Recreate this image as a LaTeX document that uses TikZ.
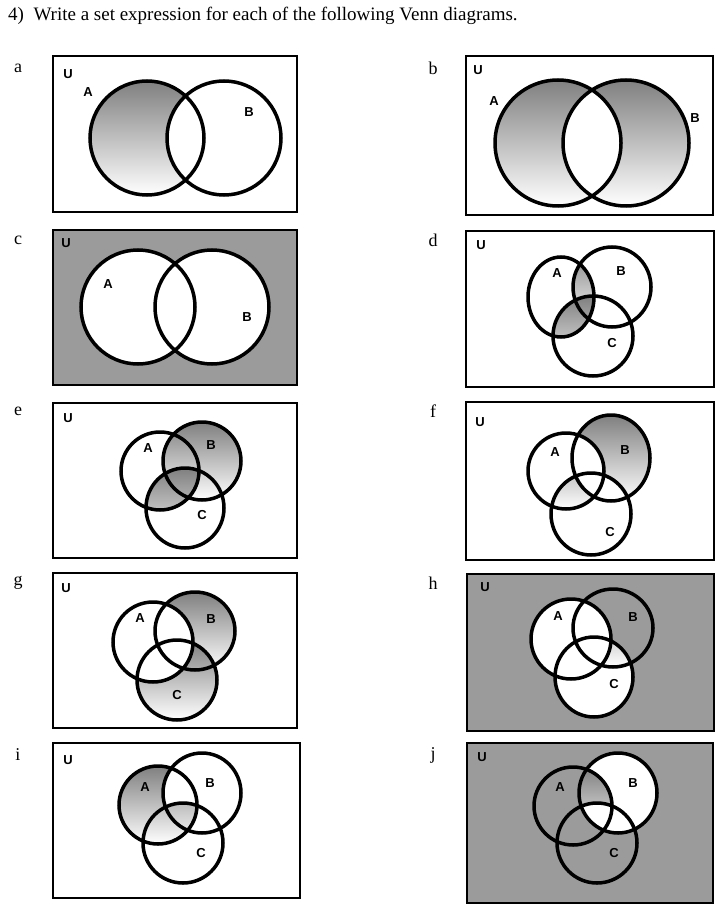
\documentclass[tikz,border=0pt]{standalone}
\usepackage{fontspec}
\setmainfont{Liberation Serif}
\newfontfamily\lblfont{Liberation Sans}
\definecolor{shade}{RGB}{155,155,155}
\begin{document}
\begin{tikzpicture}[x=1pt,y=-1pt,
  box/.style={draw=black,line width=2pt},
  ring/.style={draw=black,line width=3.5pt},
  setlbl/.style={font=\lblfont\bfseries\fontsize{13}{13}\selectfont,inner sep=0pt},
  itemlbl/.style={font=\fontsize{18}{18}\selectfont,inner sep=0pt}]
\useasboundingbox (0,0) rectangle (723,909);
\node[anchor=west,font=\fontsize{19}{19}\selectfont,inner sep=0pt] (title) at (8,16) {4)\ \ Write a set expression for each of the following Venn diagrams.};
% item letters
\foreach \n/\x/\y in {a/18/68,b/433/68,c/18/240,d/433/240,e/18/411,f/433/411,g/18/583,h/433/583,i/18/755,j/433/755}
  \node[itemlbl] (l\n) at (\x,\y) {\n};

% ---------- a
\def\A{(147,138) ellipse [x radius=57pt,y radius=57pt]}
\def\B{(224,138) ellipse [x radius=57pt,y radius=57pt]}
\draw[box] (53,56) rectangle (297,212);
\fill[shade] \A; \fill[white] \B;
\draw[ring] \A; \draw[ring] \B;
\node[setlbl] (aU) at (68,74) {U};
\node[setlbl] (aA) at (88,92) {A};
\node[setlbl] (aB) at (249,112) {B};

% ---------- b
\def\A{(558,143) ellipse [x radius=63pt,y radius=63pt]}
\def\B{(626,143) ellipse [x radius=63pt,y radius=63pt]}
\draw[box] (466,56) rectangle (713,215);
\fill[shade] \A; \fill[shade] \B;
\begin{scope}\clip \A; \fill[white] \B;\end{scope}
\draw[ring] \A; \draw[ring] \B;
\node[setlbl] (bU) at (478,70) {U};
\node[setlbl] (bA) at (494,101) {A};
\node[setlbl] (bB) at (695,118) {B};

% ---------- c
\def\A{(138,307) ellipse [x radius=57pt,y radius=57pt]}
\def\B{(212,307) ellipse [x radius=57pt,y radius=57pt]}
\draw[box,fill=shade] (53,230) rectangle (297,385);
\fill[white] \A; \fill[white] \B;
\draw[ring] \A; \draw[ring] \B;
\node[setlbl] (cU) at (66,243) {U};
\node[setlbl] (cA) at (108,284) {A};
\node[setlbl] (cB) at (247,317) {B};

% ---------- d
\def\A{(561,297) ellipse [x radius=33pt,y radius=40pt]}
\def\B{(612,287) ellipse [x radius=39pt,y radius=40pt]}
\def\C{(593,336) ellipse [x radius=40pt,y radius=40pt]}
\draw[box] (466,231) rectangle (714,387);
\begin{scope}\clip \A; \fill[shade] \B; \fill[shade] \C;\end{scope}
\draw[ring] \A; \draw[ring] \B; \draw[ring] \C;
\node[setlbl] (dU) at (481,245) {U};
\node[setlbl] (dA) at (557,273) {A};
\node[setlbl] (dB) at (621,271) {B};
\node[setlbl] (dC) at (612,343) {C};

% ---------- e
\def\A{(160,471) ellipse [x radius=39pt,y radius=39pt]}
\def\B{(202,461) ellipse [x radius=39pt,y radius=39pt]}
\def\C{(185,508) ellipse [x radius=39pt,y radius=40pt]}
\draw[box] (53,403) rectangle (297,558);
\fill[shade] \B;
\begin{scope}\clip \A; \fill[shade] \C;\end{scope}
\draw[ring] \A; \draw[ring] \B; \draw[ring] \C;
\node[setlbl] (eU) at (68,418) {U};
\node[setlbl] (eA) at (148,448) {A};
\node[setlbl] (eB) at (211,445) {B};
\node[setlbl] (eC) at (202,515) {C};

% ---------- f
\def\A{(566,471) ellipse [x radius=38pt,y radius=38pt]}
\def\B{(611,458) ellipse [x radius=39pt,y radius=43pt]}
\def\C{(591,514) ellipse [x radius=40pt,y radius=41pt]}
\draw[box] (466,402) rectangle (714,560);
\fill[shade] \B; \fill[white] \A; \fill[white] \C;
\begin{scope}\clip \A; \clip \C; \fill[shade] \A; \clip \B; \fill[white] \B;\end{scope}
\draw[ring] \A; \draw[ring] \B; \draw[ring] \C;
\node[setlbl] (fU) at (480,422) {U};
\node[setlbl] (fA) at (555,452) {A};
\node[setlbl] (fB) at (625,450) {B};
\node[setlbl] (fC) at (610,532) {C};

% ---------- g
\def\A{(153,642) ellipse [x radius=40pt,y radius=40pt]}
\def\B{(195,631) ellipse [x radius=40pt,y radius=39pt]}
\def\C{(177,680) ellipse [x radius=40pt,y radius=40pt]}
\draw[box] (53,573) rectangle (297,728);
\fill[shade] \B; \fill[shade] \C; \fill[white] \A;
\draw[ring] \A; \draw[ring] \B; \draw[ring] \C;
\node[setlbl] (gU) at (66,588) {U};
\node[setlbl] (gA) at (140,618) {A};
\node[setlbl] (gB) at (211,619) {B};
\node[setlbl] (gC) at (177,695) {C};

% ---------- h
\def\A{(571,639) ellipse [x radius=40pt,y radius=40pt]}
\def\B{(613,628) ellipse [x radius=40pt,y radius=39pt]}
\def\C{(594,677) ellipse [x radius=39pt,y radius=40pt]}
\draw[box,fill=shade] (467,574) rectangle (714,731);
\fill[white] \C;
\begin{scope}\clip \C; \fill[shade] \B;\end{scope}
\fill[white] \A;
\draw[ring] \A; \draw[ring] \B; \draw[ring] \C;
\node[setlbl] (hU) at (485,587) {U};
\node[setlbl] (hA) at (558,616) {A};
\node[setlbl] (hB) at (633,617) {B};
\node[setlbl] (hC) at (614,684) {C};

% ---------- i
\def\A{(158,805) ellipse [x radius=39pt,y radius=39pt]}
\def\B{(202,793) ellipse [x radius=39pt,y radius=40pt]}
\def\C{(183,843) ellipse [x radius=40pt,y radius=40pt]}
\draw[box] (53,743) rectangle (300,898);
\fill[shade] \A;
\begin{scope}\clip \A; \clip \B; \fill[white] \A; \clip \C; \fill[shade] \A;\end{scope}
\draw[ring] \A; \draw[ring] \B; \draw[ring] \C;
\node[setlbl] (iU) at (68,760) {U};
\node[setlbl] (iA) at (145,787) {A};
\node[setlbl] (iB) at (210,783) {B};
\node[setlbl] (iC) at (201,853) {C};

% ---------- j
\def\A{(573,806) ellipse [x radius=39pt,y radius=39pt]}
\def\B{(618,793) ellipse [x radius=39pt,y radius=40pt]}
\def\C{(597,843) ellipse [x radius=40pt,y radius=40pt]}
\draw[box,fill=shade] (467,743) rectangle (713,903);
\fill[white] \B;
\begin{scope}\clip \B; \clip \A; \fill[shade] \A; \clip \C; \fill[white] \A;\end{scope}
\draw[ring] \A; \draw[ring] \B; \draw[ring] \C;
\node[setlbl] (jU) at (482,757) {U};
\node[setlbl] (jA) at (560,787) {A};
\node[setlbl] (jB) at (633,783) {B};
\node[setlbl] (jC) at (614,853) {C};
\end{tikzpicture}
\end{document}
